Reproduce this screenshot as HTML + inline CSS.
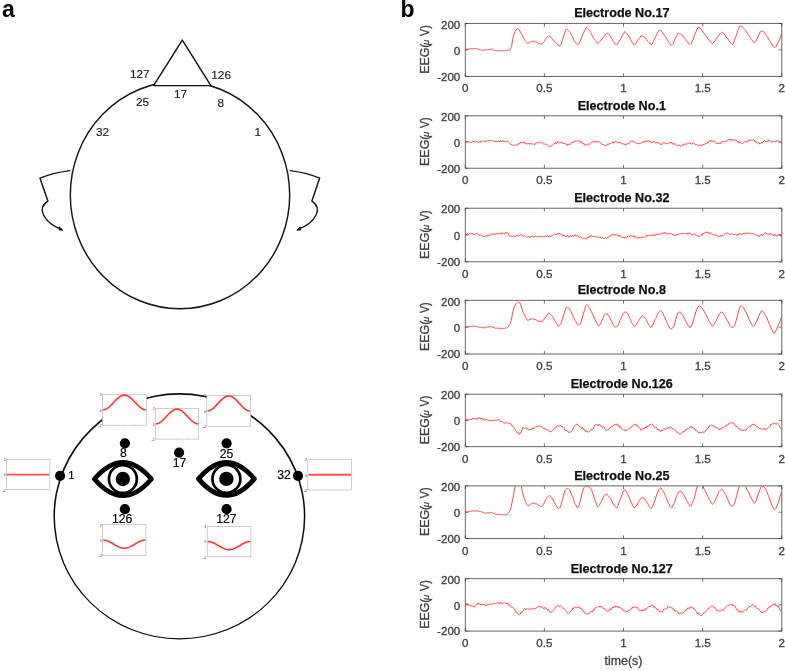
<!DOCTYPE html>
<html><head><meta charset="utf-8"><title>EEG electrodes figure</title>
<style>
html,body{margin:0;padding:0;background:#fff;}
body{width:785px;height:671px;overflow:hidden;font-family:"Liberation Sans",sans-serif;}
svg{display:block}
.lbl{font-family:"Liberation Sans",sans-serif;font-size:11.8px;fill:#1c1c1c;stroke:#1c1c1c;stroke-width:0.15px}
.lbl2{font-family:"Liberation Sans",sans-serif;font-size:12.2px;fill:#000;stroke:#000;stroke-width:0.15px}
.tick{font-family:"Liberation Sans",sans-serif;font-size:11.6px;fill:#404040;stroke:#404040;stroke-width:0.3px}
.ttl{font-family:"Liberation Sans",sans-serif;font-size:12.6px;font-weight:bold;fill:#111;stroke:#111;stroke-width:0.25px}
.yl{font-family:"Liberation Sans",sans-serif;font-size:12.4px;fill:#404040;stroke:#404040;stroke-width:0.3px}
.pan{font-family:"Liberation Sans",sans-serif;font-size:23px;font-weight:bold;fill:#000}
.tiny{font-family:"Liberation Sans",sans-serif;font-size:3.3px;fill:#333}
</style></head><body>
<svg width="785" height="671" viewBox="0 0 785 671">
<defs><filter id="soft" x="0" y="0" width="785" height="671" filterUnits="userSpaceOnUse"><feGaussianBlur stdDeviation="0.45"/></filter></defs>
<rect width="785" height="671" fill="#fff"/>
<g filter="url(#soft)">

<text class="pan" x="1.9" y="16.8">a</text>
<text class="pan" x="400.5" y="16.8">b</text>
<g fill="none" stroke="#141414" stroke-width="1.45" stroke-linejoin="round" stroke-linecap="round">
<ellipse cx="180" cy="195" rx="109.7" ry="113.7"/>
<path d="M153.6 85.6 L182.3 40.1 L210.9 85.6 Z" fill="#fff"/>
<path d="M69.6 170.6 Q52 173 40 178.2 L47.9 201.1 Q39.5 206.5 43.5 215 Q48 224 61.1 229.2"/>
<path d="M290.4 170.6 Q308 173 319.6 178.2 L311.9 201.1 Q320.1 206.5 316.1 215 Q311.6 224 298.5 229.2"/>
</g>
<path d="M62.8 230.2 L59.4 226.9 L59.0 230.0 Z" fill="#111" stroke="#111" stroke-width="0.8"/>
<path d="M296.8 230.2 L300.2 226.9 L300.6 230.0 Z" fill="#111" stroke="#111" stroke-width="0.8"/>
<text class="lbl" x="130.0" y="78.0">127</text>
<text class="lbl" x="211.3" y="79.4">126</text>
<text class="lbl" x="136.0" y="106.4">25</text>
<text class="lbl" x="173.9" y="98.2">17</text>
<text class="lbl" x="217.5" y="106.6">8</text>
<text class="lbl" x="96" y="136.3">32</text>
<text class="lbl" x="254.5" y="136.3">1</text>
<ellipse cx="179.4" cy="516.25" rx="125.95" ry="123.2" fill="#0a0a0a"/>
<ellipse cx="179.4" cy="516.55" rx="124.45" ry="121.8" fill="#fff"/>
<rect x="6.4" y="459.5" width="43.5" height="30.1" fill="#fff" stroke="#b0b0b0" stroke-width="0.6"/>
<text class="tiny" text-anchor="end" x="5.6" y="461.4">2</text>
<text class="tiny" text-anchor="end" x="5.6" y="476.4">0</text>
<text class="tiny" text-anchor="end" x="5.6" y="491.5">-2</text>
<path d="M17.3 489.6v-0.7M17.3 459.5v0.7M28.1 489.6v-0.7M28.1 459.5v0.7M39.0 489.6v-0.7M39.0 459.5v0.7" stroke="#b0b0b0" stroke-width="0.5" fill="none"/>
<polyline points="7.0,474.6 8.1,474.6 9.1,474.6 10.2,474.6 11.2,474.6 12.3,474.6 13.3,474.6 14.4,474.6 15.5,474.6 16.5,474.6 17.6,474.6 18.6,474.6 19.7,474.6 20.7,474.6 21.8,474.6 22.9,474.6 23.9,474.6 25.0,474.6 26.0,474.6 27.1,474.6 28.1,474.6 29.2,474.6 30.3,474.6 31.3,474.6 32.4,474.6 33.4,474.6 34.5,474.6 35.6,474.6 36.6,474.6 37.7,474.6 38.7,474.6 39.8,474.6 40.8,474.6 41.9,474.6 43.0,474.6 44.0,474.6 45.1,474.6 46.1,474.6 47.2,474.6 48.2,474.6 49.3,474.6" fill="none" stroke="#ff5252" stroke-width="1.9" stroke-linejoin="round"/>
<rect x="307.9" y="459.5" width="43.6" height="30.5" fill="#fff" stroke="#b0b0b0" stroke-width="0.6"/>
<text class="tiny" text-anchor="end" x="307.1" y="461.4">2</text>
<text class="tiny" text-anchor="end" x="307.1" y="476.6">0</text>
<text class="tiny" text-anchor="end" x="307.1" y="491.9">-2</text>
<path d="M318.8 490.0v-0.7M318.8 459.5v0.7M329.7 490.0v-0.7M329.7 459.5v0.7M340.6 490.0v-0.7M340.6 459.5v0.7" stroke="#b0b0b0" stroke-width="0.5" fill="none"/>
<polyline points="308.5,474.8 309.6,474.8 310.6,474.8 311.7,474.8 312.7,474.8 313.8,474.8 314.9,474.8 315.9,474.8 317.0,474.8 318.0,474.8 319.1,474.8 320.2,474.8 321.2,474.8 322.3,474.8 323.3,474.8 324.4,474.8 325.5,474.8 326.5,474.8 327.6,474.8 328.6,474.8 329.7,474.8 330.8,474.8 331.8,474.8 332.9,474.8 333.9,474.8 335.0,474.8 336.1,474.8 337.1,474.8 338.2,474.8 339.2,474.8 340.3,474.8 341.4,474.8 342.4,474.8 343.5,474.8 344.5,474.8 345.6,474.8 346.7,474.8 347.7,474.8 348.8,474.8 349.8,474.8 350.9,474.8" fill="none" stroke="#ff5252" stroke-width="1.9" stroke-linejoin="round"/>
<rect x="102.3" y="394.5" width="44.3" height="30.7" fill="#fff" stroke="#b0b0b0" stroke-width="0.6"/>
<text class="tiny" text-anchor="end" x="101.5" y="396.4">2</text>
<text class="tiny" text-anchor="end" x="101.5" y="411.8">0</text>
<text class="tiny" text-anchor="end" x="101.5" y="427.1">-2</text>
<path d="M113.4 425.2v-0.7M113.4 394.5v0.7M124.4 425.2v-0.7M124.4 394.5v0.7M135.5 425.2v-0.7M135.5 394.5v0.7" stroke="#b0b0b0" stroke-width="0.5" fill="none"/>
<polyline points="102.9,409.9 104.0,409.8 105.1,409.5 106.1,409.0 107.2,408.4 108.3,407.7 109.4,406.8 110.4,405.8 111.5,404.8 112.6,403.6 113.7,402.5 114.8,401.3 115.8,400.2 116.9,399.1 118.0,398.1 119.1,397.3 120.1,396.5 121.2,395.9 122.3,395.5 123.4,395.2 124.4,395.1 125.5,395.2 126.6,395.5 127.7,395.9 128.8,396.5 129.8,397.3 130.9,398.1 132.0,399.1 133.1,400.2 134.1,401.3 135.2,402.5 136.3,403.6 137.4,404.8 138.5,405.8 139.5,406.8 140.6,407.7 141.7,408.4 142.8,409.0 143.8,409.5 144.9,409.8 146.0,409.9" fill="none" stroke="#ff3030" stroke-width="1.55" stroke-linejoin="round"/>
<rect x="155.3" y="408.5" width="43.4" height="30.6" fill="#fff" stroke="#b0b0b0" stroke-width="0.6"/>
<text class="tiny" text-anchor="end" x="154.5" y="410.4">2</text>
<text class="tiny" text-anchor="end" x="154.5" y="425.7">0</text>
<text class="tiny" text-anchor="end" x="154.5" y="441.0">-2</text>
<path d="M166.2 439.1v-0.7M166.2 408.5v0.7M177.0 439.1v-0.7M177.0 408.5v0.7M187.8 439.1v-0.7M187.8 408.5v0.7" stroke="#b0b0b0" stroke-width="0.5" fill="none"/>
<polyline points="155.9,423.8 157.0,423.7 158.0,423.4 159.1,423.0 160.1,422.4 161.2,421.6 162.2,420.8 163.3,419.8 164.3,418.7 165.4,417.6 166.4,416.4 167.5,415.3 168.6,414.2 169.6,413.1 170.7,412.1 171.7,411.3 172.8,410.5 173.8,409.9 174.9,409.5 175.9,409.2 177.0,409.1 178.1,409.2 179.1,409.5 180.2,409.9 181.2,410.5 182.3,411.3 183.3,412.1 184.4,413.1 185.4,414.2 186.5,415.3 187.5,416.4 188.6,417.6 189.7,418.7 190.7,419.8 191.8,420.8 192.8,421.6 193.9,422.4 194.9,423.0 196.0,423.4 197.0,423.7 198.1,423.8" fill="none" stroke="#ff3030" stroke-width="1.55" stroke-linejoin="round"/>
<rect x="206.8" y="395.3" width="43.8" height="31.1" fill="#fff" stroke="#b0b0b0" stroke-width="0.6"/>
<text class="tiny" text-anchor="end" x="206.0" y="397.2">2</text>
<text class="tiny" text-anchor="end" x="206.0" y="412.8">0</text>
<text class="tiny" text-anchor="end" x="206.0" y="428.3">-2</text>
<path d="M217.8 426.4v-0.7M217.8 395.3v0.7M228.7 426.4v-0.7M228.7 395.3v0.7M239.7 426.4v-0.7M239.7 395.3v0.7" stroke="#b0b0b0" stroke-width="0.5" fill="none"/>
<polyline points="207.4,410.9 208.5,410.8 209.5,410.5 210.6,410.0 211.7,409.4 212.7,408.7 213.8,407.8 214.9,406.8 215.9,405.7 217.0,404.5 218.1,403.4 219.1,402.2 220.2,401.1 221.2,400.0 222.3,399.0 223.4,398.1 224.4,397.3 225.5,396.7 226.6,396.3 227.6,396.0 228.7,395.9 229.8,396.0 230.8,396.3 231.9,396.7 233.0,397.3 234.0,398.1 235.1,399.0 236.2,400.0 237.2,401.1 238.3,402.2 239.3,403.4 240.4,404.5 241.5,405.7 242.5,406.8 243.6,407.8 244.7,408.7 245.7,409.4 246.8,410.0 247.9,410.5 248.9,410.8 250.0,410.9" fill="none" stroke="#ff3030" stroke-width="1.55" stroke-linejoin="round"/>
<rect x="102.6" y="524.7" width="43.3" height="30.8" fill="#fff" stroke="#b0b0b0" stroke-width="0.6"/>
<text class="tiny" text-anchor="end" x="101.8" y="526.6">2</text>
<text class="tiny" text-anchor="end" x="101.8" y="542.0">0</text>
<text class="tiny" text-anchor="end" x="101.8" y="557.4">-2</text>
<path d="M113.4 555.5v-0.7M113.4 524.7v0.7M124.2 555.5v-0.7M124.2 524.7v0.7M135.1 555.5v-0.7M135.1 524.7v0.7" stroke="#b0b0b0" stroke-width="0.5" fill="none"/>
<polyline points="103.2,540.1 104.3,540.2 105.3,540.3 106.4,540.5 107.4,540.9 108.5,541.3 109.5,541.8 110.6,542.3 111.6,542.9 112.7,543.5 113.7,544.2 114.8,544.8 115.8,545.4 116.9,546.0 117.9,546.6 119.0,547.1 120.0,547.5 121.1,547.8 122.1,548.1 123.2,548.2 124.2,548.3 125.3,548.2 126.4,548.1 127.4,547.8 128.5,547.5 129.5,547.1 130.6,546.6 131.6,546.0 132.7,545.4 133.7,544.8 134.8,544.2 135.8,543.5 136.9,542.9 137.9,542.3 139.0,541.8 140.0,541.3 141.1,540.9 142.1,540.5 143.2,540.3 144.2,540.2 145.3,540.1" fill="none" stroke="#ff3030" stroke-width="1.55" stroke-linejoin="round"/>
<rect x="207.2" y="526.3" width="43.7" height="30.5" fill="#fff" stroke="#b0b0b0" stroke-width="0.6"/>
<text class="tiny" text-anchor="end" x="206.4" y="528.2">2</text>
<text class="tiny" text-anchor="end" x="206.4" y="543.4">0</text>
<text class="tiny" text-anchor="end" x="206.4" y="558.7">-2</text>
<path d="M218.1 556.8v-0.7M218.1 526.3v0.7M229.1 556.8v-0.7M229.1 526.3v0.7M240.0 556.8v-0.7M240.0 526.3v0.7" stroke="#b0b0b0" stroke-width="0.5" fill="none"/>
<polyline points="207.8,541.5 208.9,541.6 209.9,541.7 211.0,542.0 212.0,542.3 213.1,542.7 214.2,543.2 215.2,543.8 216.3,544.3 217.4,545.0 218.4,545.6 219.5,546.2 220.5,546.8 221.6,547.4 222.7,548.0 223.7,548.4 224.8,548.9 225.9,549.2 226.9,549.4 228.0,549.6 229.0,549.6 230.1,549.6 231.2,549.4 232.2,549.2 233.3,548.9 234.4,548.4 235.4,548.0 236.5,547.4 237.5,546.8 238.6,546.2 239.7,545.6 240.7,545.0 241.8,544.3 242.9,543.8 243.9,543.2 245.0,542.7 246.1,542.3 247.1,542.0 248.2,541.7 249.2,541.6 250.3,541.5" fill="none" stroke="#ff3030" stroke-width="1.55" stroke-linejoin="round"/>
<circle cx="60.1" cy="475.8" r="5.1" fill="#000"/>
<circle cx="298" cy="475.8" r="5.1" fill="#000"/>
<circle cx="124.9" cy="443.3" r="5.1" fill="#000"/>
<circle cx="226.6" cy="443.3" r="5.1" fill="#000"/>
<circle cx="179.1" cy="452.6" r="5.1" fill="#000"/>
<circle cx="124.9" cy="509.2" r="5.1" fill="#000"/>
<circle cx="226.6" cy="509.2" r="5.1" fill="#000"/>
<text class="lbl2" text-anchor="middle" x="71.4" y="478.9" style="font-size:11.3px">1</text>
<text class="lbl2" text-anchor="middle" x="284" y="479">32</text>
<text class="lbl2" text-anchor="middle" x="123.5" y="456.6">8</text>
<text class="lbl2" text-anchor="middle" x="226.5" y="457.8">25</text>
<text class="lbl2" text-anchor="middle" x="179.6" y="466.8">17</text>
<text class="lbl2" text-anchor="middle" x="122.2" y="522.6">126</text>
<text class="lbl2" text-anchor="middle" x="226.4" y="522.6">127</text>
<g transform="translate(122.9 479.0)">
<path d="M-28.50 0 Q0 -33.40 28.50 0 Q0 33.40 -28.50 0 Z" fill="none" stroke="#000" stroke-width="4.8" stroke-linejoin="round"/>
<circle r="13.95" fill="none" stroke="#000" stroke-width="2.7"/>
<circle r="7.2" fill="#000"/>
</g>
<g transform="translate(226.4 478.9)">
<path d="M-27.90 0 Q0 -33.00 27.90 0 Q0 33.00 -27.90 0 Z" fill="none" stroke="#000" stroke-width="4.8" stroke-linejoin="round"/>
<circle r="13.95" fill="none" stroke="#000" stroke-width="2.7"/>
<circle r="7.2" fill="#000"/>
</g>
<clipPath id="c0"><rect x="465.3" y="23.4" width="316.5" height="53.0"/></clipPath>
<polyline clip-path="url(#c0)" points="465.3,49.1 466.1,49.0 466.9,49.3 467.7,48.8 468.5,49.1 469.3,48.9 470.1,48.6 470.9,48.9 471.7,48.5 472.5,48.7 473.3,48.4 474.2,48.4 475.0,48.6 475.8,48.9 476.6,48.5 477.4,48.8 478.2,49.2 479.0,49.7 479.9,49.7 480.7,49.7 481.5,50.3 482.3,49.9 483.1,50.6 483.9,50.1 484.6,49.9 485.4,49.8 486.2,49.8 486.9,50.1 487.7,49.5 488.5,49.7 489.2,49.6 490.0,49.3 490.8,49.3 491.5,49.0 492.3,49.2 493.1,49.8 493.9,50.5 494.7,50.7 495.5,50.6 496.2,50.8 497.0,50.7 497.8,50.6 498.6,50.9 499.3,50.9 500.1,50.6 500.9,50.8 501.7,50.7 502.4,51.0 503.2,50.8 504.0,50.5 504.7,51.0 505.5,50.3 506.3,50.5 507.1,50.7 507.8,50.2 508.6,50.4 509.4,50.0 510.4,48.9 511.5,46.7 512.5,40.9 513.6,35.2 514.4,33.0 515.2,31.5 516.0,30.0 516.8,28.7 517.8,28.5 518.9,29.5 519.7,30.9 520.5,32.1 521.4,33.9 522.2,35.2 523.1,37.2 523.9,38.6 524.7,40.2 525.6,41.5 526.4,42.3 527.3,43.3 528.0,43.4 528.8,42.8 529.6,42.8 530.4,42.2 531.2,41.8 532.0,41.4 532.8,41.6 533.6,41.0 534.3,41.3 535.1,41.6 535.9,42.2 536.6,42.0 537.4,42.6 538.2,43.0 538.9,43.6 539.7,43.8 540.4,44.1 541.2,43.8 542.0,43.9 542.8,43.1 543.6,42.5 544.3,41.5 545.1,39.8 545.9,38.6 546.7,37.5 547.5,36.6 548.3,36.0 549.1,36.3 550.0,36.6 550.8,37.1 551.6,38.3 552.5,39.1 553.3,40.0 554.1,41.0 554.8,41.7 555.6,42.5 556.4,43.4 557.2,44.3 558.0,44.6 558.8,45.8 559.8,45.9 560.9,44.7 561.6,42.8 562.4,40.4 563.1,38.1 563.9,35.5 564.6,33.6 565.4,31.1 566.1,29.4 566.9,29.2 567.7,29.6 568.5,30.5 569.3,31.5 570.1,32.5 570.8,33.8 571.6,35.2 572.4,36.8 573.1,38.0 573.9,40.1 574.6,41.3 575.4,42.2 576.2,43.4 576.9,44.3 577.7,45.0 578.5,43.8 579.2,43.1 580.0,41.7 580.8,39.6 581.5,37.8 582.3,35.7 583.1,33.8 583.8,32.2 584.6,30.5 585.4,29.5 586.1,27.8 586.9,27.5 587.7,28.7 588.5,29.5 589.3,30.5 590.0,31.8 590.8,32.6 591.6,34.2 592.3,35.8 593.1,37.1 593.9,38.3 594.6,39.3 595.4,40.6 596.1,41.5 596.9,42.9 597.7,43.4 598.4,43.1 599.2,42.2 600.0,41.3 600.7,40.8 601.5,39.9 602.3,38.8 603.0,37.7 603.8,36.6 604.6,35.6 605.3,34.4 606.1,33.9 606.9,33.6 607.7,33.4 608.4,33.9 609.2,34.8 610.1,35.8 610.9,37.2 611.7,38.7 612.5,39.7 613.3,41.4 614.1,42.8 615.0,43.9 615.8,44.4 616.6,44.9 617.4,44.0 618.2,42.8 619.0,41.5 619.9,40.2 620.7,38.8 621.5,37.2 622.3,35.4 623.1,34.1 623.9,33.1 624.6,31.5 625.5,32.3 626.4,33.1 627.4,34.1 628.1,35.2 628.9,36.3 629.7,37.4 630.4,39.3 631.2,40.5 632.0,42.2 632.8,43.6 633.5,44.2 634.3,45.0 635.1,44.7 636.0,43.6 636.8,42.0 637.7,40.6 638.5,39.2 639.3,38.4 640.2,37.2 641.0,35.8 641.8,36.0 642.6,36.3 643.4,36.5 644.2,37.0 645.0,37.8 645.8,38.4 646.6,39.4 647.4,41.1 648.3,41.9 649.1,42.7 649.9,43.8 650.7,44.1 651.5,44.7 652.3,43.6 653.2,41.8 654.0,40.3 654.8,38.6 655.6,36.7 656.4,35.2 657.3,33.3 658.1,31.9 658.9,30.5 659.7,30.6 660.5,30.2 661.2,30.8 662.0,31.9 662.8,33.0 663.6,33.8 664.4,35.4 665.2,36.4 666.0,37.7 666.8,39.1 667.6,40.1 668.3,41.7 669.1,42.7 669.9,43.6 670.7,45.0 671.5,45.2 672.3,44.6 673.1,43.6 673.9,41.9 674.6,40.0 675.4,38.4 676.2,36.7 677.0,35.3 677.8,33.6 678.6,33.7 679.5,33.4 680.3,33.7 681.2,34.5 682.0,35.0 682.8,35.8 683.5,36.8 684.3,37.9 685.1,38.6 685.8,39.8 686.6,40.8 687.4,41.8 688.1,42.9 688.9,43.5 689.6,44.1 690.4,44.4 691.2,43.5 692.0,41.7 692.9,39.9 693.7,37.9 694.5,35.3 695.3,33.3 696.1,31.6 697.0,29.7 697.8,27.8 698.6,27.2 699.3,27.6 700.1,28.0 700.9,29.1 701.7,29.8 702.5,31.0 703.2,32.1 704.0,33.2 704.8,33.7 705.5,35.2 706.3,36.3 707.1,37.0 707.9,38.6 708.6,39.7 709.4,40.2 710.2,41.6 710.9,42.0 711.7,42.8 712.5,43.7 713.2,43.1 714.0,42.0 714.8,41.3 715.5,40.3 716.3,39.0 717.1,37.8 717.8,36.7 718.6,35.8 719.4,34.2 720.1,33.7 720.9,32.8 721.7,32.2 722.5,32.6 723.3,33.2 724.0,33.9 724.8,34.4 725.6,36.1 726.3,37.0 727.1,38.3 727.9,38.9 728.6,40.2 729.4,41.2 730.2,42.7 730.9,43.2 731.7,43.8 732.5,44.4 733.3,43.4 734.1,41.5 734.9,39.1 735.7,36.7 736.5,34.9 737.4,32.3 738.2,30.2 739.0,27.9 739.8,26.3 740.6,26.3 741.5,26.2 742.3,26.5 743.2,27.9 744.0,28.8 744.8,29.7 745.5,30.2 746.3,31.8 747.0,32.4 747.8,34.1 748.5,35.0 749.3,36.2 750.0,37.5 750.8,38.9 751.5,39.6 752.3,40.5 753.0,41.6 753.8,42.2 754.5,42.7 755.3,41.9 756.1,40.6 756.9,39.1 757.7,37.5 758.5,35.7 759.3,34.3 760.0,32.4 760.8,31.4 761.7,31.0 762.5,31.3 763.4,31.5 764.2,32.4 765.0,33.2 765.8,34.6 766.6,35.6 767.4,36.6 768.2,38.1 769.0,39.8 769.8,40.6 770.5,42.4 771.3,43.4 772.1,44.7 772.9,46.0 773.7,46.7 774.5,47.6 775.3,47.2 776.2,46.2 777.0,44.3 777.9,43.0 778.7,41.4 779.5,39.5 780.2,37.3 781.0,35.4 781.8,33.6" fill="none" stroke="#ff4545" stroke-width="1.0" stroke-linejoin="round"/>
<rect x="465.3" y="23.4" width="316.5" height="53.0" fill="none" stroke="#565656" stroke-width="0.9"/>
<path d="M465.3 76.4v-3.2M465.3 23.4v3.2M544.4 76.4v-3.2M544.4 23.4v3.2M623.5 76.4v-3.2M623.5 23.4v3.2M702.7 76.4v-3.2M702.7 23.4v3.2M781.8 76.4v-3.2M781.8 23.4v3.2M465.3 23.4h3.2M781.8 23.4h-3.2M465.3 49.9h3.2M781.8 49.9h-3.2M465.3 76.4h3.2M781.8 76.4h-3.2" stroke="#3c3c3c" stroke-width="0.7" fill="none"/>
<text class="tick" text-anchor="middle" x="465.3" y="92.3">0</text>
<text class="tick" text-anchor="middle" x="544.4" y="92.3">0.5</text>
<text class="tick" text-anchor="middle" x="623.5" y="92.3">1</text>
<text class="tick" text-anchor="middle" x="702.7" y="92.3">1.5</text>
<text class="tick" text-anchor="middle" x="781.8" y="92.3">2</text>
<text class="tick" text-anchor="end" x="460.3" y="28.6">200</text>
<text class="tick" text-anchor="end" x="460.3" y="54.9">0</text>
<text class="tick" text-anchor="end" x="460.3" y="80.7">-200</text>
<text class="ttl" text-anchor="middle" x="621.8" y="17.4">Electrode No.17</text>
<g transform="translate(429.1 72.8) rotate(-90)"><text class="yl" x="-1">EEG(</text><text class="yl" x="27.9" style="font-size:9.6px;font-style:italic">μ</text><text class="yl" transform="translate(36.9 0) scale(0.86 1)">V)</text></g>
<clipPath id="c1"><rect x="465.3" y="115.8" width="316.5" height="52.4"/></clipPath>
<polyline clip-path="url(#c1)" points="465.3,141.6 466.1,141.5 466.9,142.6 467.7,141.7 468.4,141.5 469.2,141.4 470.0,142.7 470.8,142.7 471.6,142.3 472.4,141.6 473.2,141.5 473.9,141.6 474.7,141.8 475.5,141.2 476.3,141.7 477.1,141.4 477.9,142.6 478.7,142.6 479.4,141.8 480.2,141.2 481.0,142.5 481.8,141.3 482.5,141.3 483.3,140.6 484.0,141.3 484.8,141.4 485.5,141.4 486.3,140.9 487.0,141.4 487.8,140.4 488.5,140.9 489.3,140.5 490.0,141.1 490.8,140.4 491.5,140.4 492.3,140.9 493.0,140.7 493.8,141.3 494.5,141.2 495.3,141.6 496.0,141.4 496.8,141.5 497.5,141.8 498.3,140.9 499.0,140.8 499.8,142.0 500.5,140.5 501.3,141.5 502.0,141.4 502.8,140.3 503.5,141.7 504.3,141.8 505.0,141.4 505.8,141.6 506.5,141.7 507.3,140.6 508.1,141.8 508.9,142.4 509.7,143.7 510.4,144.3 511.2,144.6 512.0,144.5 512.8,145.4 513.6,145.3 514.4,145.6 515.2,145.1 516.0,144.9 516.8,145.2 517.6,145.0 518.4,143.7 519.3,144.1 520.1,142.8 521.0,142.3 521.7,142.3 522.5,142.6 523.3,142.5 524.1,141.9 524.9,143.6 525.7,143.7 526.5,143.5 527.3,143.8 528.0,144.1 528.8,143.1 529.6,144.4 530.4,143.6 531.2,143.4 532.0,143.7 532.8,144.6 533.6,143.6 534.3,144.4 535.1,144.5 535.8,143.3 536.6,142.8 537.3,142.6 538.1,142.7 538.8,142.7 539.6,142.6 540.5,142.9 541.3,142.2 542.1,142.6 542.9,143.1 543.7,144.3 544.5,143.9 545.4,144.6 546.2,143.9 546.9,144.3 547.7,145.1 548.5,146.2 549.3,146.5 550.0,146.7 550.8,146.1 551.6,146.0 552.4,145.3 553.2,144.6 554.0,143.2 554.8,143.9 555.6,142.1 556.4,143.4 557.1,143.2 557.9,141.4 558.6,142.2 559.4,142.8 560.1,143.1 560.9,142.2 561.7,142.1 562.5,142.3 563.3,144.0 564.0,143.1 564.8,144.1 565.6,143.7 566.4,144.6 567.2,145.6 568.0,143.9 568.8,144.9 569.6,143.9 570.4,144.2 571.1,143.5 571.9,142.2 572.7,143.1 573.5,142.0 574.3,141.0 575.0,140.8 575.8,141.5 576.5,141.3 577.3,140.9 578.0,140.5 578.8,140.9 579.6,141.2 580.4,142.5 581.2,141.5 582.0,143.3 582.8,143.9 583.7,143.1 584.5,145.0 585.3,144.9 586.1,145.5 586.9,144.3 587.6,144.2 588.4,143.9 589.2,144.7 589.9,143.7 590.7,142.9 591.5,142.7 592.2,142.0 593.0,141.3 593.8,141.1 594.5,142.2 595.4,141.2 596.2,142.4 597.0,141.2 597.9,141.4 598.7,142.1 599.5,141.8 600.4,142.5 601.2,143.9 602.0,144.2 602.8,144.5 603.6,144.5 604.4,145.4 605.3,145.8 606.1,145.3 606.9,145.4 607.8,143.8 608.6,144.6 609.4,143.6 610.3,143.8 611.0,143.4 611.8,142.5 612.5,141.9 613.3,143.3 614.0,141.7 614.8,142.1 615.5,141.8 616.4,141.7 617.2,142.6 618.1,143.2 618.9,142.1 619.7,143.0 620.6,142.7 621.4,143.6 622.3,143.8 623.1,143.8 623.9,144.2 625.3,144.3 626.0,145.2 626.8,144.0 627.6,143.1 628.4,143.9 629.2,143.6 630.0,142.2 630.8,141.2 631.6,141.1 632.3,141.0 633.1,141.6 633.9,141.3 634.6,141.8 635.4,142.1 636.1,142.9 636.9,143.7 637.7,143.7 638.4,143.3 639.2,143.5 640.0,143.8 640.7,143.3 641.5,142.9 642.2,141.9 643.0,141.9 643.7,142.7 644.5,140.8 645.2,141.2 646.0,141.4 646.8,141.9 647.5,140.8 648.3,140.9 649.0,141.0 649.8,141.4 650.6,141.5 651.3,142.6 652.1,142.5 652.9,142.6 653.6,141.2 654.4,141.4 655.2,142.7 655.9,143.2 656.7,142.6 657.5,143.0 658.2,142.1 659.0,143.0 659.7,144.1 660.5,144.1 661.3,144.3 662.0,144.6 662.8,143.2 663.6,142.9 664.3,142.9 665.1,143.4 665.9,143.5 666.6,143.9 667.4,143.3 668.2,143.1 668.9,143.2 669.7,142.6 670.4,142.8 671.2,142.0 671.9,143.6 672.7,142.9 673.4,144.4 674.2,144.2 674.9,143.9 675.7,143.9 676.5,144.4 677.2,145.4 678.0,145.8 678.7,145.0 679.5,145.1 680.2,146.1 681.0,146.4 681.7,145.8 682.5,145.2 683.3,145.5 684.1,144.0 684.9,144.1 685.7,143.9 686.5,144.4 687.3,143.6 688.0,144.0 688.8,143.2 689.6,142.8 690.4,142.9 691.2,144.3 692.0,143.9 692.8,143.3 693.6,142.9 694.4,144.0 695.1,144.6 695.9,144.4 696.7,144.4 697.5,145.5 698.3,146.2 699.1,145.2 699.9,145.0 700.7,145.4 701.4,145.2 702.2,145.4 703.0,144.2 703.8,144.9 704.6,144.4 705.4,143.7 706.2,142.8 706.9,143.7 707.7,142.1 708.4,142.6 709.2,141.0 709.9,140.6 710.7,141.3 711.4,140.2 712.3,141.6 713.1,141.1 713.9,141.0 714.7,141.5 715.5,142.3 716.3,143.1 717.2,144.0 718.0,142.9 718.8,143.5 719.6,143.0 720.3,144.1 721.1,142.3 721.8,141.7 722.6,141.4 723.4,141.5 724.1,142.0 724.9,141.6 725.7,141.0 726.4,141.1 727.2,140.7 728.0,139.6 728.8,139.2 729.6,140.6 730.4,140.3 731.1,139.0 731.9,140.2 732.7,139.8 733.5,139.9 734.3,140.1 735.0,140.1 735.8,140.0 736.6,140.9 737.3,141.3 738.1,142.7 738.9,141.5 739.6,143.3 740.4,142.2 741.1,142.7 741.9,143.7 742.7,143.5 743.5,142.6 744.3,141.7 745.1,142.1 745.9,141.6 746.6,142.3 747.4,140.6 748.2,140.6 749.0,141.3 749.8,139.5 750.6,139.9 751.4,140.5 752.1,140.6 752.9,139.6 753.7,139.9 754.4,140.3 755.2,142.2 756.0,141.4 756.7,142.6 757.5,143.3 758.2,142.6 759.0,142.7 759.8,144.1 760.6,143.4 761.4,142.5 762.2,143.0 763.0,141.9 763.9,141.4 764.7,140.6 765.5,141.6 766.3,141.6 767.1,140.8 767.9,141.4 768.7,139.9 769.5,140.4 770.3,141.0 771.1,142.1 771.9,142.2 772.7,141.3 773.4,141.2 774.2,141.4 774.9,141.3 775.7,141.9 776.4,140.4 777.2,141.3 777.9,141.0 778.7,141.2 779.5,141.7 780.2,142.3 781.0,142.7 781.8,143.4" fill="none" stroke="#ff4545" stroke-width="1.0" stroke-linejoin="round"/>
<rect x="465.3" y="115.8" width="316.5" height="52.4" fill="none" stroke="#565656" stroke-width="0.9"/>
<path d="M465.3 168.2v-3.2M465.3 115.8v3.2M544.4 168.2v-3.2M544.4 115.8v3.2M623.5 168.2v-3.2M623.5 115.8v3.2M702.7 168.2v-3.2M702.7 115.8v3.2M781.8 168.2v-3.2M781.8 115.8v3.2M465.3 115.8h3.2M781.8 115.8h-3.2M465.3 142.0h3.2M781.8 142.0h-3.2M465.3 168.2h3.2M781.8 168.2h-3.2" stroke="#3c3c3c" stroke-width="0.7" fill="none"/>
<text class="tick" text-anchor="middle" x="465.3" y="184.1">0</text>
<text class="tick" text-anchor="middle" x="544.4" y="184.1">0.5</text>
<text class="tick" text-anchor="middle" x="623.5" y="184.1">1</text>
<text class="tick" text-anchor="middle" x="702.7" y="184.1">1.5</text>
<text class="tick" text-anchor="middle" x="781.8" y="184.1">2</text>
<text class="tick" text-anchor="end" x="460.3" y="121.0">200</text>
<text class="tick" text-anchor="end" x="460.3" y="147.0">0</text>
<text class="tick" text-anchor="end" x="460.3" y="172.5">-200</text>
<text class="ttl" text-anchor="middle" x="621.8" y="109.8">Electrode No.1</text>
<g transform="translate(429.1 164.9) rotate(-90)"><text class="yl" x="-1">EEG(</text><text class="yl" x="27.9" style="font-size:9.6px;font-style:italic">μ</text><text class="yl" transform="translate(36.9 0) scale(0.86 1)">V)</text></g>
<clipPath id="c2"><rect x="465.3" y="208.2" width="316.5" height="53.6"/></clipPath>
<polyline clip-path="url(#c2)" points="465.3,234.4 466.1,235.1 466.9,233.7 467.7,233.8 468.5,234.7 469.4,233.6 470.2,233.2 471.0,233.0 471.8,233.8 472.6,233.3 473.5,234.5 474.3,234.4 475.1,234.7 476.0,233.5 476.8,233.3 477.6,233.5 478.5,234.5 479.3,235.2 480.1,235.0 480.9,234.9 481.7,235.5 482.5,236.1 483.4,236.3 484.2,236.6 485.0,236.7 485.7,236.2 486.5,235.1 487.3,236.3 488.1,235.1 488.9,235.5 489.7,234.9 490.5,235.4 491.3,234.2 492.1,234.1 492.8,234.0 493.6,233.6 494.4,234.8 495.2,234.0 496.0,233.4 496.8,233.4 497.5,234.4 498.3,233.5 499.0,232.9 499.8,233.9 500.5,233.6 501.3,234.2 502.0,232.5 502.8,233.1 503.5,233.7 504.3,233.8 505.0,233.9 505.8,232.3 506.5,232.8 507.3,232.5 508.1,233.2 509.0,235.3 509.8,235.3 510.7,236.6 511.5,236.1 512.3,237.0 513.1,236.2 513.9,235.8 514.6,236.6 515.4,236.8 516.2,235.2 517.0,235.9 517.8,235.8 518.6,235.0 519.4,235.2 520.2,234.7 521.0,234.8 521.7,235.0 522.5,235.9 523.3,236.2 524.1,235.7 524.9,235.7 525.7,236.5 526.5,237.3 527.3,236.6 528.0,236.9 528.8,236.6 529.6,237.7 530.4,237.2 531.1,236.3 531.9,236.3 532.7,236.8 533.5,237.0 534.2,237.1 535.0,236.1 535.8,236.2 536.6,237.1 537.3,236.5 538.1,236.2 538.9,236.2 539.7,237.3 540.4,236.1 541.2,236.5 542.0,236.1 542.7,236.2 543.5,237.0 544.3,237.2 545.0,236.1 545.8,235.8 546.6,236.7 547.3,235.8 548.1,235.4 548.9,237.0 549.6,236.1 550.4,236.7 551.2,235.7 552.0,236.3 552.8,235.3 553.7,234.4 554.5,233.8 555.3,234.4 556.1,234.3 556.9,234.6 557.7,232.9 558.5,234.0 559.2,233.7 560.0,234.2 560.7,233.9 561.5,234.4 562.2,235.1 563.0,236.1 563.8,234.8 564.6,235.6 565.4,236.3 566.1,236.8 566.9,235.5 567.7,235.5 568.5,237.1 569.3,237.2 570.1,236.2 570.9,235.3 571.7,236.7 572.5,235.5 573.2,236.3 574.0,235.6 574.8,235.9 575.6,234.7 576.4,236.0 577.2,235.3 578.0,235.9 578.8,237.1 579.5,237.4 580.3,236.6 581.1,237.0 581.9,237.7 582.7,238.2 583.5,238.3 584.3,238.0 585.1,238.4 585.9,239.1 586.6,239.1 587.4,237.2 588.2,237.7 589.0,237.6 589.8,235.9 590.6,237.0 591.4,235.5 592.2,236.4 593.0,236.4 593.8,236.6 594.6,236.2 595.5,236.6 596.3,237.1 597.1,237.0 597.9,237.6 598.7,237.3 599.5,237.4 600.3,236.8 601.0,238.0 601.8,237.9 602.5,237.6 603.3,238.6 604.1,238.8 604.8,238.3 605.6,237.8 606.4,238.4 607.1,237.8 608.0,237.3 608.8,237.2 609.7,235.8 610.5,235.8 611.3,235.3 612.1,234.3 612.8,235.2 613.6,234.1 614.3,235.2 615.1,235.2 615.8,234.7 616.6,233.9 617.4,234.9 618.2,235.0 619.0,236.4 619.9,235.2 620.7,236.9 621.5,237.5 622.3,237.4 623.1,237.8 623.9,236.9 624.8,238.2 625.6,237.1 626.4,237.7 627.2,237.3 628.0,235.7 628.9,236.6 629.7,236.6 630.5,235.0 631.3,235.6 632.1,236.5 632.9,235.7 633.7,237.2 634.5,236.4 635.2,237.6 636.0,236.6 636.8,237.5 637.6,238.5 638.4,237.4 639.2,237.7 640.0,238.3 640.8,237.8 641.6,237.0 642.4,237.0 643.2,236.7 644.1,237.7 644.9,236.9 645.7,237.0 646.5,235.4 647.3,236.2 648.1,234.9 648.9,235.6 649.6,235.6 650.4,235.1 651.1,235.9 651.9,235.2 652.7,235.2 653.4,235.7 654.2,234.2 655.0,235.7 655.7,234.9 656.5,234.4 657.3,234.9 658.1,233.8 658.9,234.9 659.7,234.0 660.5,233.5 661.2,234.0 662.0,233.3 662.8,232.7 663.6,233.6 664.4,232.3 665.2,233.6 665.9,232.7 666.7,233.5 667.4,234.3 668.2,233.7 668.9,234.0 669.7,233.6 670.4,233.3 671.2,233.5 671.9,233.9 672.7,235.0 673.4,234.8 674.2,235.1 674.9,235.9 675.7,234.6 676.5,234.7 677.3,235.3 678.2,234.0 679.0,233.8 679.8,234.2 680.6,233.5 681.4,233.7 682.2,233.3 683.1,233.8 683.8,233.8 684.6,233.1 685.4,233.9 686.2,233.6 687.0,233.0 687.8,234.5 688.6,233.3 689.4,233.2 690.2,233.1 690.9,234.2 691.7,234.6 692.5,234.6 693.3,234.1 694.1,234.2 694.9,234.0 695.7,235.5 696.5,235.7 697.2,235.6 698.0,236.3 698.8,236.1 699.6,236.7 700.5,235.9 701.3,234.6 702.1,235.4 702.9,233.3 703.7,233.7 704.5,233.1 705.4,232.4 706.2,231.8 707.0,233.1 707.8,231.9 708.5,233.0 709.3,233.9 710.1,232.7 710.9,233.0 711.7,234.0 712.5,234.1 713.3,234.6 714.1,235.2 714.8,234.4 715.6,235.0 716.4,235.3 717.2,235.2 718.0,236.9 718.8,236.9 719.6,236.6 720.3,235.1 721.1,236.4 721.8,235.9 722.6,235.1 723.4,235.3 724.1,234.5 724.9,233.8 725.7,233.3 726.4,233.3 727.2,232.8 727.9,233.3 728.7,234.1 729.4,234.1 730.2,234.4 731.0,234.3 731.7,233.6 732.5,234.2 733.2,234.1 734.0,234.9 734.7,234.5 735.5,234.1 736.2,234.8 737.0,235.5 737.7,234.2 738.5,235.3 739.2,233.6 740.0,233.9 740.8,233.7 741.5,234.4 742.3,234.6 743.1,234.0 743.8,233.1 744.6,234.0 745.4,232.8 746.1,232.5 746.9,233.7 747.7,233.1 748.5,233.2 749.3,233.1 750.1,233.7 750.8,232.8 751.6,233.5 752.4,233.4 753.2,234.0 754.0,233.6 754.8,234.6 755.6,234.8 756.4,234.8 757.1,235.0 757.9,236.1 758.7,235.4 759.5,236.7 760.4,235.1 761.2,234.6 762.0,234.4 762.8,235.6 763.6,234.2 764.4,233.5 765.3,233.0 766.1,232.8 766.9,234.0 767.7,234.0 768.5,234.2 769.4,234.4 770.2,233.3 771.0,234.4 771.8,234.2 772.6,235.1 773.4,235.3 774.2,235.5 775.0,234.1 775.7,235.6 776.5,235.8 777.2,236.0 778.0,234.6 778.8,234.9 779.5,234.8 780.3,234.7 781.0,236.3 781.8,236.3" fill="none" stroke="#ff4545" stroke-width="1.0" stroke-linejoin="round"/>
<rect x="465.3" y="208.2" width="316.5" height="53.6" fill="none" stroke="#565656" stroke-width="0.9"/>
<path d="M465.3 261.8v-3.2M465.3 208.2v3.2M544.4 261.8v-3.2M544.4 208.2v3.2M623.5 261.8v-3.2M623.5 208.2v3.2M702.7 261.8v-3.2M702.7 208.2v3.2M781.8 261.8v-3.2M781.8 208.2v3.2M465.3 208.2h3.2M781.8 208.2h-3.2M465.3 235.0h3.2M781.8 235.0h-3.2M465.3 261.8h3.2M781.8 261.8h-3.2" stroke="#3c3c3c" stroke-width="0.7" fill="none"/>
<text class="tick" text-anchor="middle" x="465.3" y="277.7">0</text>
<text class="tick" text-anchor="middle" x="544.4" y="277.7">0.5</text>
<text class="tick" text-anchor="middle" x="623.5" y="277.7">1</text>
<text class="tick" text-anchor="middle" x="702.7" y="277.7">1.5</text>
<text class="tick" text-anchor="middle" x="781.8" y="277.7">2</text>
<text class="tick" text-anchor="end" x="460.3" y="213.4">200</text>
<text class="tick" text-anchor="end" x="460.3" y="240.0">0</text>
<text class="tick" text-anchor="end" x="460.3" y="266.1">-200</text>
<text class="ttl" text-anchor="middle" x="621.8" y="202.2">Electrode No.32</text>
<g transform="translate(429.1 257.9) rotate(-90)"><text class="yl" x="-1">EEG(</text><text class="yl" x="27.9" style="font-size:9.6px;font-style:italic">μ</text><text class="yl" transform="translate(36.9 0) scale(0.86 1)">V)</text></g>
<clipPath id="c3"><rect x="465.3" y="300.3" width="316.5" height="53.7"/></clipPath>
<polyline clip-path="url(#c3)" points="465.3,327.2 466.1,327.3 466.9,327.1 467.7,326.7 468.4,326.5 469.2,326.4 470.0,326.8 470.8,326.3 471.6,326.3 472.4,326.3 473.1,326.0 473.9,326.1 474.7,326.1 475.5,326.5 476.2,326.4 477.0,326.5 477.8,327.1 478.5,326.9 479.3,327.3 480.1,327.3 480.8,327.1 481.6,327.5 482.4,327.6 483.1,327.9 483.9,327.6 484.6,327.8 485.4,327.5 486.2,327.2 486.9,327.5 487.7,326.9 488.5,327.2 489.2,326.7 490.0,326.5 490.8,326.5 491.5,326.9 492.4,327.2 493.2,326.9 494.1,327.5 494.9,327.9 495.7,328.4 496.5,328.0 497.2,328.2 498.0,328.1 498.7,328.5 499.5,328.1 500.2,328.7 501.0,328.2 501.7,328.2 502.5,328.5 503.2,328.4 504.0,328.1 504.7,328.4 505.5,327.9 506.2,328.4 507.1,327.6 507.9,327.0 508.8,326.0 509.6,324.7 510.4,323.5 511.2,320.1 512.0,316.5 512.8,312.0 513.6,309.1 514.4,306.5 515.2,304.9 516.0,303.6 516.8,302.8 517.5,302.2 518.3,302.1 519.1,302.7 519.9,302.7 520.7,304.8 521.5,307.2 522.3,309.8 523.1,312.1 523.9,313.8 524.7,315.3 525.6,317.0 526.4,318.4 527.3,320.2 528.0,320.2 528.8,320.1 529.5,319.5 530.3,319.4 531.0,319.4 531.8,319.0 532.5,318.6 533.3,319.1 534.1,319.6 534.9,319.4 535.7,319.7 536.5,320.2 537.2,320.8 538.0,321.2 538.8,321.0 539.6,321.3 540.4,321.5 541.2,321.7 542.0,321.9 542.8,320.8 543.6,319.9 544.3,318.7 545.1,318.0 545.9,316.6 546.7,315.0 547.5,314.6 548.3,313.2 549.1,313.3 549.9,314.0 550.6,314.4 551.4,315.3 552.2,316.2 553.0,317.4 553.8,319.1 554.6,320.2 555.4,321.8 556.2,323.3 557.0,324.3 557.7,325.6 558.5,326.0 559.3,325.6 560.1,324.7 560.9,323.6 561.6,321.6 562.4,319.1 563.1,316.9 563.9,314.2 564.6,312.0 565.4,309.9 566.1,307.7 566.9,307.2 567.7,307.4 568.5,307.7 569.3,308.6 570.1,310.1 570.8,311.6 571.6,313.0 572.4,314.5 573.1,316.2 573.9,317.7 574.6,319.3 575.4,320.7 576.2,322.1 576.9,323.6 577.7,324.3 578.5,324.9 579.3,324.9 580.1,324.0 580.9,322.6 581.6,320.2 582.4,317.7 583.1,315.0 583.9,312.3 584.6,309.4 585.4,307.1 586.1,305.3 586.9,304.5 587.7,305.3 588.5,306.4 589.3,307.7 590.1,309.0 590.8,310.8 591.6,311.8 592.4,313.9 593.2,315.4 594.0,317.6 594.8,319.5 595.6,320.9 596.4,322.2 597.1,323.9 597.9,325.1 598.7,326.2 599.5,325.3 600.3,324.2 601.1,322.7 601.9,320.7 602.7,318.7 603.5,317.3 604.2,315.1 605.0,314.2 605.8,313.6 606.6,314.0 607.4,314.0 608.2,315.5 609.0,316.2 609.8,317.5 610.5,319.2 611.3,320.9 612.1,322.3 612.9,324.1 613.7,325.5 614.5,326.8 615.3,327.0 616.1,326.8 616.9,326.3 617.6,325.8 618.4,324.6 619.2,322.7 619.9,320.7 620.7,319.3 621.5,317.2 622.2,315.3 623.0,313.7 623.8,312.8 624.7,312.2 625.6,312.0 626.5,312.2 627.4,313.1 628.1,314.1 628.9,316.1 629.7,317.4 630.4,319.4 631.2,321.3 632.0,323.1 632.8,324.4 633.5,325.6 634.3,326.7 635.1,325.9 635.8,325.6 636.6,324.2 637.4,323.3 638.2,321.7 639.0,320.4 639.7,319.1 640.5,318.0 641.3,316.8 642.1,315.8 642.9,316.3 643.6,316.4 644.4,317.1 645.2,318.1 646.1,319.5 646.9,320.9 647.7,322.7 648.6,324.3 649.4,325.5 650.3,327.0 651.1,327.6 651.9,326.0 652.7,325.2 653.4,323.7 654.2,321.9 655.0,319.7 655.8,318.4 656.6,316.5 657.3,314.4 658.1,312.9 658.9,312.3 659.7,311.3 660.5,310.7 661.2,310.9 662.0,311.7 662.8,313.1 663.6,315.0 664.4,316.4 665.2,318.1 666.0,320.5 666.8,322.3 667.6,323.7 668.4,325.8 669.2,327.2 670.0,328.6 670.9,328.9 671.8,328.8 672.7,328.0 673.6,326.9 674.4,324.0 675.3,321.5 676.1,318.3 677.0,315.5 677.8,313.0 678.6,312.6 679.4,312.1 680.2,312.1 681.0,312.8 681.7,313.8 682.5,315.2 683.3,316.3 684.1,318.0 684.9,319.3 685.7,321.1 686.5,322.6 687.3,324.0 688.0,325.5 688.8,326.0 689.6,327.4 690.4,327.7 691.2,326.3 692.0,324.4 692.9,322.1 693.7,319.2 694.5,316.5 695.3,314.2 696.1,311.0 697.0,309.1 697.8,307.2 698.6,306.0 699.5,306.2 700.3,306.4 701.1,307.1 702.0,307.6 702.7,309.2 703.5,310.0 704.2,311.3 705.0,313.1 705.7,314.0 706.5,316.0 707.2,317.5 708.0,318.8 708.7,320.7 709.5,321.7 710.2,323.1 711.0,324.3 711.7,325.5 712.5,325.8 713.3,325.3 714.1,324.3 714.9,323.0 715.7,321.7 716.5,319.7 717.3,318.4 718.1,316.4 718.9,314.9 719.7,313.4 720.5,312.4 721.3,312.1 722.2,312.1 723.0,313.2 723.8,314.0 724.5,315.2 725.3,316.5 726.1,318.1 726.8,319.6 727.6,321.2 728.3,322.1 729.1,324.0 729.9,325.4 730.6,326.3 731.4,327.0 732.2,327.6 733.0,327.3 733.8,326.7 734.6,325.9 735.4,323.3 736.2,320.6 737.0,317.6 737.8,314.5 738.6,311.3 739.4,308.6 740.2,306.4 741.0,306.0 741.7,306.1 742.5,306.7 743.3,307.4 744.0,308.9 744.8,310.0 745.6,311.7 746.4,312.8 747.2,314.6 748.0,316.2 748.7,318.5 749.5,320.4 750.3,321.8 751.1,323.2 751.9,324.9 752.7,326.0 753.5,326.7 754.3,325.6 755.1,324.3 755.9,322.7 756.7,320.8 757.6,318.9 758.4,317.0 759.2,315.3 760.0,313.0 760.8,312.0 761.6,310.9 762.4,310.8 763.2,311.7 764.0,312.7 764.8,314.2 765.5,315.3 766.3,316.6 767.1,318.6 767.9,320.5 768.6,322.6 769.4,324.5 770.2,326.0 771.0,327.7 771.7,329.1 772.5,331.0 773.3,332.1 774.1,333.2 775.0,332.5 775.9,330.7 776.8,329.0 777.6,326.4 778.5,325.1 779.3,322.5 780.1,321.0 781.0,318.5 781.8,316.9" fill="none" stroke="#ff4545" stroke-width="1.0" stroke-linejoin="round"/>
<rect x="465.3" y="300.3" width="316.5" height="53.7" fill="none" stroke="#565656" stroke-width="0.9"/>
<path d="M465.3 354.0v-3.2M465.3 300.3v3.2M544.4 354.0v-3.2M544.4 300.3v3.2M623.5 354.0v-3.2M623.5 300.3v3.2M702.7 354.0v-3.2M702.7 300.3v3.2M781.8 354.0v-3.2M781.8 300.3v3.2M465.3 300.3h3.2M781.8 300.3h-3.2M465.3 327.1h3.2M781.8 327.1h-3.2M465.3 354.0h3.2M781.8 354.0h-3.2" stroke="#3c3c3c" stroke-width="0.7" fill="none"/>
<text class="tick" text-anchor="middle" x="465.3" y="369.9">0</text>
<text class="tick" text-anchor="middle" x="544.4" y="369.9">0.5</text>
<text class="tick" text-anchor="middle" x="623.5" y="369.9">1</text>
<text class="tick" text-anchor="middle" x="702.7" y="369.9">1.5</text>
<text class="tick" text-anchor="middle" x="781.8" y="369.9">2</text>
<text class="tick" text-anchor="end" x="460.3" y="305.5">200</text>
<text class="tick" text-anchor="end" x="460.3" y="332.1">0</text>
<text class="tick" text-anchor="end" x="460.3" y="358.3">-200</text>
<text class="ttl" text-anchor="middle" x="621.8" y="294.3">Electrode No.8</text>
<g transform="translate(429.1 350.0) rotate(-90)"><text class="yl" x="-1">EEG(</text><text class="yl" x="27.9" style="font-size:9.6px;font-style:italic">μ</text><text class="yl" transform="translate(36.9 0) scale(0.86 1)">V)</text></g>
<clipPath id="c4"><rect x="465.3" y="394.2" width="316.5" height="52.5"/></clipPath>
<polyline clip-path="url(#c4)" points="465.3,420.7 466.1,419.7 466.9,420.4 467.7,419.2 468.5,418.8 469.4,419.9 470.2,419.5 471.0,419.6 471.8,419.2 472.6,417.9 473.4,418.8 474.1,418.9 474.9,418.5 475.7,419.3 476.4,418.1 477.2,419.3 478.0,418.9 478.7,417.6 479.5,417.7 480.3,418.9 481.0,419.2 481.8,418.0 482.5,418.6 483.3,419.6 484.1,418.8 484.8,420.3 485.6,419.8 486.4,419.3 487.1,420.0 487.9,420.6 488.7,420.5 489.4,421.1 490.2,420.1 491.0,421.2 491.7,420.3 492.5,420.7 493.2,420.5 494.0,420.0 494.8,419.8 495.5,420.4 496.3,420.6 497.1,420.2 497.8,419.8 498.6,419.6 499.4,419.5 500.2,421.5 501.0,421.3 501.8,422.0 502.6,421.5 503.4,422.3 504.1,423.3 504.9,423.1 505.7,422.8 506.5,422.3 507.3,422.6 508.1,423.5 508.9,422.7 509.7,423.4 510.4,423.4 511.3,425.0 512.1,426.0 513.0,426.3 513.8,427.1 514.6,428.7 515.5,429.9 516.3,431.1 517.1,432.4 517.9,433.4 518.7,432.5 519.5,434.4 520.4,433.1 521.3,431.4 522.2,429.0 523.1,427.1 523.8,428.1 524.6,428.3 525.4,428.3 526.2,429.1 527.0,428.4 527.8,428.3 528.6,429.5 529.4,430.1 530.2,428.9 531.0,429.6 531.9,429.6 532.7,428.0 533.6,428.3 534.3,428.1 535.1,427.4 535.8,426.6 536.6,426.3 537.3,426.9 538.1,426.7 538.8,425.9 539.6,425.4 540.3,426.9 541.1,427.2 541.8,426.5 542.6,427.5 543.3,428.4 544.1,428.8 544.9,428.6 545.8,429.0 546.6,429.8 547.4,429.7 548.3,430.2 549.1,430.7 550.0,432.0 550.8,431.6 551.6,431.5 552.5,430.5 553.3,429.9 554.2,428.3 555.0,427.3 555.8,428.2 556.7,426.4 557.5,425.6 558.4,426.2 559.2,426.4 560.1,425.2 560.9,426.2 561.7,426.2 562.4,427.0 563.2,426.8 563.9,427.5 564.7,429.9 565.5,430.4 566.2,430.4 567.0,431.1 567.8,431.1 568.5,432.5 569.3,432.2 570.1,432.6 570.9,431.5 571.8,430.8 572.6,430.1 573.4,427.8 574.2,426.4 575.0,425.8 575.8,425.0 576.7,424.2 577.5,424.2 578.3,425.5 579.2,426.5 580.0,426.4 580.9,427.8 581.6,428.3 582.4,427.4 583.1,429.1 583.9,429.4 584.6,429.5 585.4,431.6 586.1,430.8 587.0,431.5 587.8,431.7 588.6,432.2 589.5,431.5 590.3,430.6 591.1,430.1 591.9,428.8 592.7,429.3 593.5,428.5 594.3,426.2 595.0,425.0 595.8,424.7 596.6,424.2 597.4,425.2 598.1,425.3 598.9,425.4 599.6,424.2 600.4,425.8 601.1,426.0 601.9,426.3 602.6,427.4 603.4,426.4 604.1,427.3 604.9,429.1 605.6,430.1 606.4,430.2 607.1,429.8 607.9,430.0 608.7,429.9 609.4,428.2 610.2,428.0 611.0,427.3 611.7,426.4 612.5,426.5 613.2,425.3 614.0,424.9 614.8,424.2 615.5,424.8 616.4,423.8 617.2,425.4 618.1,425.0 618.9,425.2 619.7,427.4 620.6,426.8 621.4,428.8 622.3,429.5 623.1,430.3 623.9,429.5 625.3,430.7 626.0,429.7 626.8,430.8 627.5,430.2 628.3,429.3 629.0,428.5 629.8,427.8 630.5,428.1 631.3,426.9 632.0,426.7 632.8,425.3 633.5,425.0 634.3,424.3 635.0,425.2 635.8,424.6 636.5,424.3 637.3,426.4 638.0,426.2 638.8,427.4 639.5,427.9 640.3,428.9 641.0,430.4 641.8,429.3 642.5,428.7 643.3,428.9 644.0,428.2 644.8,428.8 645.5,426.9 646.3,428.0 647.0,425.8 647.8,426.9 648.5,426.0 649.3,424.8 650.0,424.9 650.8,424.3 651.5,424.1 652.3,424.3 653.1,425.1 653.8,426.8 654.6,427.5 655.4,428.0 656.1,427.2 656.9,428.3 657.6,430.0 658.4,429.1 659.2,430.8 659.9,430.5 660.7,431.6 661.4,429.7 662.2,430.9 662.9,429.8 663.7,429.1 664.4,428.6 665.2,429.7 665.9,428.9 666.7,427.9 667.4,428.1 668.2,428.7 668.9,427.2 669.7,427.7 670.4,426.8 671.2,427.2 672.0,428.8 672.8,429.2 673.6,428.9 674.4,429.3 675.2,430.0 676.0,431.6 676.8,432.0 677.5,432.2 678.3,432.6 679.1,433.7 679.9,434.1 680.7,434.0 681.4,433.3 682.2,432.2 683.0,431.4 683.8,432.1 684.5,430.9 685.3,430.9 686.1,429.1 686.8,429.9 687.6,428.4 688.4,428.8 689.2,428.3 689.9,427.2 690.7,426.0 691.5,427.4 692.3,427.0 693.1,428.3 693.9,427.9 694.7,428.6 695.6,430.6 696.4,430.6 697.2,431.1 698.0,432.1 698.8,433.1 699.6,432.0 700.4,432.9 701.2,432.6 702.0,432.5 702.8,431.6 703.6,432.3 704.3,432.2 705.1,431.9 705.9,430.1 706.7,429.8 707.6,428.2 708.4,427.8 709.2,425.6 710.0,426.2 710.8,425.8 711.6,425.1 712.3,425.5 713.1,425.9 713.8,426.3 714.6,425.9 715.3,428.1 716.1,427.3 716.8,427.7 717.6,428.0 718.3,428.6 719.1,429.9 719.8,428.7 720.6,428.6 721.4,429.3 722.2,427.9 722.9,427.2 723.7,427.7 724.5,427.1 725.2,426.4 726.0,426.2 726.8,424.6 727.5,425.4 728.3,424.6 729.1,423.0 729.9,422.7 730.6,423.1 731.4,422.8 732.2,422.8 733.0,422.9 733.8,424.0 734.6,424.1 735.3,425.6 736.1,426.7 736.9,426.1 737.7,427.6 738.5,428.6 739.3,428.2 740.1,429.9 740.9,430.6 741.6,429.8 742.4,429.9 743.1,430.7 743.9,430.1 744.6,429.8 745.4,430.6 746.1,430.1 747.0,428.7 747.8,427.7 748.6,427.1 749.5,426.4 750.3,426.6 751.2,425.5 752.0,425.1 752.8,424.5 753.6,424.8 754.4,423.8 755.2,425.1 756.0,426.5 756.8,427.1 757.6,426.5 758.4,427.5 759.2,428.4 760.0,428.5 760.8,429.2 761.6,428.5 762.3,429.2 763.1,429.3 763.8,428.4 764.6,428.5 765.3,429.8 766.1,429.2 766.9,429.0 767.7,427.9 768.5,427.6 769.4,427.1 770.2,426.4 771.0,424.2 771.8,424.7 772.6,423.5 773.4,423.8 774.3,422.9 775.1,423.4 776.0,424.1 776.8,423.8 777.6,423.4 778.5,424.8 779.3,425.8 780.1,427.9 781.0,427.8 781.8,428.8" fill="none" stroke="#ff4545" stroke-width="1.0" stroke-linejoin="round"/>
<rect x="465.3" y="394.2" width="316.5" height="52.5" fill="none" stroke="#565656" stroke-width="0.9"/>
<path d="M465.3 446.7v-3.2M465.3 394.2v3.2M544.4 446.7v-3.2M544.4 394.2v3.2M623.5 446.7v-3.2M623.5 394.2v3.2M702.7 446.7v-3.2M702.7 394.2v3.2M781.8 446.7v-3.2M781.8 394.2v3.2M465.3 394.2h3.2M781.8 394.2h-3.2M465.3 420.4h3.2M781.8 420.4h-3.2M465.3 446.7h3.2M781.8 446.7h-3.2" stroke="#3c3c3c" stroke-width="0.7" fill="none"/>
<text class="tick" text-anchor="middle" x="465.3" y="462.6">0</text>
<text class="tick" text-anchor="middle" x="544.4" y="462.6">0.5</text>
<text class="tick" text-anchor="middle" x="623.5" y="462.6">1</text>
<text class="tick" text-anchor="middle" x="702.7" y="462.6">1.5</text>
<text class="tick" text-anchor="middle" x="781.8" y="462.6">2</text>
<text class="tick" text-anchor="end" x="460.3" y="399.4">200</text>
<text class="tick" text-anchor="end" x="460.3" y="425.4">0</text>
<text class="tick" text-anchor="end" x="460.3" y="451.0">-200</text>
<text class="ttl" text-anchor="middle" x="621.8" y="388.2">Electrode No.126</text>
<g transform="translate(429.1 443.3) rotate(-90)"><text class="yl" x="-1">EEG(</text><text class="yl" x="27.9" style="font-size:9.6px;font-style:italic">μ</text><text class="yl" transform="translate(36.9 0) scale(0.86 1)">V)</text></g>
<clipPath id="c5"><rect x="465.3" y="485.9" width="316.5" height="52.7"/></clipPath>
<polyline clip-path="url(#c5)" points="465.3,512.2 466.1,511.7 466.9,512.0 467.7,512.1 468.5,511.6 469.4,511.3 470.2,511.3 471.0,511.3 471.8,510.9 472.6,510.8 473.4,510.8 474.2,510.9 475.1,511.0 475.9,510.9 476.7,510.9 477.5,510.8 478.3,511.2 479.2,511.4 480.0,511.3 480.7,511.5 481.5,511.9 482.2,511.9 483.0,512.5 483.7,512.7 484.5,513.0 485.2,513.2 486.0,513.1 486.8,513.0 487.6,512.9 488.4,512.8 489.2,512.9 490.0,512.7 490.7,512.8 491.5,512.4 492.4,512.9 493.2,513.5 494.1,513.4 494.9,514.0 495.7,514.2 496.5,514.1 497.2,514.7 498.0,514.3 498.7,514.7 499.5,514.3 500.2,514.4 501.0,515.0 501.7,514.8 502.5,514.5 503.2,514.8 504.0,514.9 504.7,515.1 505.5,514.6 506.2,514.6 507.1,514.5 507.9,513.6 508.8,512.2 509.6,511.3 510.4,509.9 511.2,506.7 512.0,502.7 512.8,498.9 513.6,495.1 514.6,488.8 515.7,483.5 516.5,481.3 517.2,479.4 518.0,478.0 518.9,479.4 519.7,481.2 520.5,483.6 521.4,486.7 522.2,491.2 523.1,494.5 523.9,497.3 524.7,499.5 525.6,501.7 526.4,504.1 527.3,505.4 528.0,505.4 528.8,505.4 529.5,505.1 530.3,504.5 531.0,503.9 531.8,503.5 532.5,503.2 533.3,503.5 534.0,503.3 534.8,503.5 535.5,503.8 536.3,503.8 537.0,504.0 537.8,504.5 538.6,505.1 539.5,505.6 540.3,506.3 541.1,506.5 542.0,506.7 542.7,505.5 543.5,504.4 544.2,502.9 545.0,500.9 545.7,499.9 546.5,498.1 547.2,497.2 548.0,496.4 548.8,496.0 549.6,495.3 550.4,495.9 551.2,497.2 552.0,497.8 552.8,499.1 553.6,500.9 554.4,502.3 555.2,504.0 556.0,505.3 556.8,506.5 557.6,507.9 558.4,508.5 559.2,508.4 560.1,507.4 560.9,505.3 561.7,502.5 562.6,499.4 563.4,495.8 564.3,493.0 565.1,490.2 565.9,489.3 566.8,488.5 567.6,488.5 568.5,488.8 569.3,489.7 570.1,491.0 570.8,492.9 571.6,494.8 572.4,496.5 573.1,498.5 573.9,500.7 574.6,502.9 575.4,504.2 576.2,505.9 576.9,507.4 577.7,507.9 578.5,506.4 579.3,504.6 580.1,501.7 580.9,498.5 581.6,495.1 582.4,492.7 583.2,489.8 584.0,487.7 584.8,486.9 585.5,486.5 586.3,486.1 587.0,486.1 587.8,486.3 588.7,486.9 589.6,487.4 590.5,488.0 591.4,489.4 592.2,491.6 592.9,493.8 593.7,496.1 594.5,499.1 595.3,501.3 596.1,503.2 596.9,505.3 597.7,507.0 598.5,506.0 599.3,505.3 600.1,503.4 600.9,502.1 601.8,500.8 602.6,499.0 603.4,497.5 604.2,495.8 605.0,494.9 605.8,494.4 606.6,494.2 607.4,494.8 608.2,495.5 608.9,496.8 609.7,497.6 610.5,498.8 611.2,500.0 612.0,501.4 612.8,503.2 613.5,504.0 614.3,505.2 615.1,506.3 615.8,507.4 616.6,508.1 617.4,506.7 618.2,505.2 619.0,502.7 619.8,500.5 620.6,498.7 621.4,496.1 622.2,494.3 623.0,492.1 623.8,490.4 624.6,489.8 625.5,490.1 626.3,492.0 627.1,493.1 627.9,494.5 628.7,496.4 629.5,498.2 630.3,499.9 631.1,502.3 631.9,503.9 632.7,505.8 633.5,506.8 634.3,508.0 635.1,507.1 636.0,506.0 636.8,505.3 637.7,503.7 638.5,501.8 639.3,500.7 640.2,499.3 641.0,497.9 641.8,497.7 642.6,497.9 643.4,497.8 644.2,498.8 645.0,499.2 645.8,500.6 646.6,502.2 647.4,503.2 648.3,504.7 649.1,506.4 649.9,507.2 650.7,508.3 651.5,508.3 652.3,506.8 653.2,505.1 654.0,502.8 654.8,501.0 655.6,498.1 656.4,495.8 657.3,493.2 658.1,491.4 658.9,489.5 659.7,488.5 660.5,487.8 661.2,488.0 662.0,489.4 662.8,490.4 663.6,491.8 664.4,493.4 665.2,495.3 666.0,497.1 666.8,498.9 667.6,501.2 668.3,502.7 669.1,504.2 669.9,506.1 670.7,506.9 671.5,507.9 672.3,507.4 673.0,505.4 673.8,503.8 674.6,502.1 675.4,499.9 676.1,497.3 676.9,495.4 677.7,493.8 678.4,492.0 679.3,491.7 680.2,490.9 681.1,491.7 682.0,492.1 682.8,493.0 683.5,494.4 684.3,495.6 685.1,497.4 685.8,498.7 686.6,500.7 687.4,501.9 688.1,503.2 688.9,504.3 689.6,505.7 690.4,506.2 691.3,505.6 692.1,503.4 692.9,501.5 693.8,499.2 694.6,496.8 695.5,493.4 696.4,489.2 697.4,485.9 698.2,483.9 699.0,482.1 699.9,481.1 700.7,481.8 701.6,483.3 702.4,486.1 703.2,486.9 703.9,488.5 704.7,489.7 705.5,491.6 706.3,493.1 707.1,494.9 707.8,496.4 708.6,497.8 709.4,499.6 710.2,500.9 710.9,502.1 711.7,503.6 712.5,504.2 713.3,503.5 714.1,502.6 714.9,501.0 715.8,499.3 716.6,497.5 717.4,495.1 718.2,493.4 719.0,491.6 719.8,490.8 720.6,489.9 721.4,489.2 722.2,489.3 723.0,490.1 723.8,491.4 724.5,492.4 725.3,494.4 726.1,495.7 726.8,497.5 727.6,499.0 728.3,500.6 729.1,502.8 729.9,504.1 730.6,505.5 731.4,506.1 732.2,506.3 733.0,505.8 733.8,504.7 734.6,503.1 735.4,500.7 736.2,497.4 737.0,494.5 737.8,491.5 738.6,488.2 739.4,486.1 740.4,483.8 741.4,482.6 742.3,481.5 743.2,482.4 744.2,483.8 745.1,485.7 745.9,486.7 746.6,488.8 747.4,490.3 748.2,491.6 749.0,493.2 749.8,495.5 750.6,497.0 751.4,498.2 752.2,499.8 752.9,501.1 753.7,502.6 754.5,503.1 755.3,502.4 756.1,500.6 756.9,498.0 757.7,496.1 758.5,493.5 759.3,491.4 760.0,489.4 760.8,487.4 761.7,486.6 762.5,486.8 763.4,486.4 764.2,487.3 765.0,488.1 765.8,489.5 766.5,491.3 767.3,493.0 768.0,494.8 768.8,496.6 769.6,499.1 770.3,501.0 771.1,503.0 771.8,505.2 772.6,506.4 773.3,508.4 774.1,509.3 775.0,509.5 775.9,508.3 776.8,506.1 777.6,504.4 778.5,502.3 779.3,499.3 780.1,496.5 781.0,493.7 781.8,491.4" fill="none" stroke="#ff4545" stroke-width="1.0" stroke-linejoin="round"/>
<rect x="465.3" y="485.9" width="316.5" height="52.7" fill="none" stroke="#565656" stroke-width="0.9"/>
<path d="M465.3 538.6v-3.2M465.3 485.9v3.2M544.4 538.6v-3.2M544.4 485.9v3.2M623.5 538.6v-3.2M623.5 485.9v3.2M702.7 538.6v-3.2M702.7 485.9v3.2M781.8 538.6v-3.2M781.8 485.9v3.2M465.3 485.9h3.2M781.8 485.9h-3.2M465.3 512.2h3.2M781.8 512.2h-3.2M465.3 538.6h3.2M781.8 538.6h-3.2" stroke="#3c3c3c" stroke-width="0.7" fill="none"/>
<text class="tick" text-anchor="middle" x="465.3" y="554.5">0</text>
<text class="tick" text-anchor="middle" x="544.4" y="554.5">0.5</text>
<text class="tick" text-anchor="middle" x="623.5" y="554.5">1</text>
<text class="tick" text-anchor="middle" x="702.7" y="554.5">1.5</text>
<text class="tick" text-anchor="middle" x="781.8" y="554.5">2</text>
<text class="tick" text-anchor="end" x="460.3" y="491.1">200</text>
<text class="tick" text-anchor="end" x="460.3" y="517.2">0</text>
<text class="tick" text-anchor="end" x="460.3" y="542.9">-200</text>
<text class="ttl" text-anchor="middle" x="621.8" y="479.9">Electrode No.25</text>
<g transform="translate(429.1 535.1) rotate(-90)"><text class="yl" x="-1">EEG(</text><text class="yl" x="27.9" style="font-size:9.6px;font-style:italic">μ</text><text class="yl" transform="translate(36.9 0) scale(0.86 1)">V)</text></g>
<clipPath id="c6"><rect x="465.3" y="578.7" width="316.5" height="52.4"/></clipPath>
<polyline clip-path="url(#c6)" points="465.3,603.3 466.1,603.7 467.0,603.6 467.8,604.2 468.6,604.2 469.5,605.7 470.3,606.0 471.1,605.5 472.0,605.9 472.8,606.7 473.7,606.7 474.5,607.1 475.3,605.3 476.2,604.4 477.0,604.9 477.9,602.9 478.7,603.8 479.4,603.4 480.2,604.5 481.0,604.2 481.8,604.8 482.6,603.8 483.4,605.0 484.2,605.0 485.0,604.9 485.7,605.7 486.5,605.9 487.3,604.5 488.1,604.8 488.8,604.8 489.6,604.4 490.3,604.0 491.1,604.2 491.8,603.9 492.6,604.7 493.3,604.0 494.1,603.2 494.8,603.4 495.6,603.6 496.3,603.2 497.1,602.7 497.8,602.4 498.6,602.2 499.4,604.1 500.2,603.6 501.0,602.3 501.8,603.5 502.6,604.1 503.4,603.3 504.1,602.4 504.9,603.3 505.6,603.4 506.4,603.1 507.1,603.9 507.9,603.1 508.6,605.2 509.4,605.0 510.1,605.6 510.9,606.9 511.6,607.1 512.4,607.1 513.1,607.9 513.9,608.5 514.6,609.0 515.5,611.5 516.3,612.7 517.2,612.7 518.0,613.4 518.9,614.8 519.6,614.8 520.4,614.3 521.1,612.0 521.9,612.4 522.6,611.6 523.4,610.6 524.1,609.2 524.9,608.7 525.7,609.9 526.6,608.8 527.4,608.9 528.2,609.2 529.0,608.8 529.8,609.7 530.6,608.5 531.5,608.0 532.2,608.8 533.0,608.8 533.8,608.9 534.5,608.5 535.3,608.7 536.1,608.5 536.8,607.4 537.6,607.2 538.3,606.4 539.1,606.5 539.9,606.9 540.7,606.1 541.4,607.5 542.2,606.7 543.0,607.5 543.8,608.9 544.6,607.4 545.4,607.7 546.2,608.8 547.0,608.7 547.8,610.3 548.6,609.5 549.4,611.7 550.2,612.2 551.0,612.4 551.9,611.9 552.7,610.9 553.5,610.7 554.4,609.3 555.2,608.0 556.1,606.7 556.9,605.9 557.7,605.6 558.6,606.0 559.4,606.5 560.3,605.5 561.1,606.4 561.9,607.3 562.7,608.2 563.5,608.4 564.3,608.9 565.1,609.5 565.9,610.7 566.7,611.6 567.5,613.2 568.2,613.5 569.0,613.0 569.8,612.6 570.6,611.9 571.4,610.5 572.2,610.0 573.0,607.8 573.8,608.3 574.6,607.6 575.3,606.8 576.1,607.2 576.8,607.9 577.6,607.0 578.3,607.4 579.1,606.8 579.8,607.1 580.6,608.9 581.4,608.0 582.2,609.3 583.0,611.2 583.8,611.7 584.5,611.9 585.3,613.8 586.1,613.9 586.9,614.3 587.6,613.8 588.4,613.7 589.1,613.4 589.9,612.7 590.6,611.7 591.4,611.4 592.1,612.2 592.9,610.9 593.6,609.3 594.4,610.0 595.1,608.1 595.9,607.2 596.6,607.5 597.5,606.6 598.3,606.9 599.1,606.8 600.0,606.2 600.8,606.9 601.6,606.4 602.4,607.8 603.2,608.6 604.0,608.2 604.8,609.5 605.6,609.4 606.3,610.6 607.1,611.7 607.9,610.8 608.7,610.8 609.4,610.4 610.2,608.7 611.0,609.9 611.7,608.8 612.5,607.1 613.2,608.0 614.0,606.7 614.8,605.8 615.5,607.1 616.4,606.4 617.2,607.1 618.1,606.2 618.9,607.9 619.7,606.9 620.6,607.9 621.4,608.8 622.3,608.8 623.1,610.6 623.9,610.4 625.3,611.6 626.0,612.1 626.8,611.2 627.6,611.6 628.4,610.6 629.2,610.6 630.0,609.4 630.8,609.6 631.6,609.0 632.3,607.1 633.1,607.9 633.9,606.7 634.7,607.3 635.5,607.4 636.3,608.1 637.2,607.2 638.0,608.3 638.8,609.7 639.6,610.7 640.4,610.7 641.3,609.8 642.1,611.2 642.9,609.9 643.6,610.4 644.4,610.5 645.2,608.6 646.0,609.7 646.8,608.7 647.6,607.3 648.4,606.6 649.2,606.6 650.0,607.0 650.7,606.1 651.5,605.0 652.3,605.1 653.1,605.6 653.9,607.5 654.7,606.8 655.5,608.2 656.3,608.2 657.0,609.6 657.8,609.6 658.6,609.7 659.4,611.7 660.2,611.4 661.0,612.0 661.8,612.0 662.5,611.9 663.3,609.6 664.0,609.7 664.8,608.7 665.6,608.9 666.3,609.0 667.1,608.4 667.9,606.4 668.6,606.4 669.4,607.4 670.2,607.5 670.9,607.3 671.7,607.9 672.5,607.8 673.2,609.7 674.0,609.4 674.8,611.0 675.6,611.0 676.3,610.6 677.1,611.7 677.9,612.0 678.6,613.8 679.4,613.7 680.2,612.9 681.0,613.5 681.7,613.6 682.5,613.3 683.2,613.0 684.0,612.0 684.8,611.3 685.5,609.9 686.3,610.3 687.1,609.2 687.8,607.9 688.6,608.2 689.4,608.8 690.2,606.6 690.9,606.7 691.7,607.8 692.5,607.4 693.3,607.9 694.0,609.0 694.8,609.3 695.6,610.7 696.3,611.5 697.1,613.1 697.9,614.0 698.6,612.8 699.4,614.5 700.2,615.4 700.9,615.9 701.7,615.4 702.4,614.6 703.2,614.0 703.9,612.8 704.7,611.9 705.4,612.1 706.2,611.5 706.9,610.8 707.7,609.5 708.4,608.0 709.2,608.3 709.9,607.6 710.7,606.6 711.4,606.4 712.2,606.1 713.0,606.9 713.7,607.1 714.5,607.0 715.3,608.2 716.0,608.8 716.8,610.8 717.5,610.4 718.3,610.7 719.1,610.8 719.8,611.1 720.6,611.0 721.4,610.2 722.2,609.4 722.9,610.6 723.7,609.2 724.5,608.6 725.2,608.2 726.0,607.1 726.8,606.2 727.5,605.4 728.3,605.3 729.1,604.8 729.9,605.2 730.6,604.4 731.4,604.9 732.2,604.1 732.9,605.8 733.7,605.8 734.5,605.5 735.2,606.5 736.0,608.2 736.8,609.8 737.5,609.4 738.3,611.0 739.0,610.9 739.8,612.4 740.6,610.9 741.3,611.8 742.1,612.6 742.8,611.3 743.6,611.0 744.3,610.3 745.1,610.3 745.9,609.9 746.7,610.1 747.5,608.3 748.3,607.8 749.2,606.5 750.0,606.5 750.8,606.4 751.6,605.4 752.4,604.1 753.2,605.5 753.9,606.4 754.7,606.2 755.4,605.7 756.2,607.9 756.9,608.7 757.7,608.3 758.4,608.6 759.2,609.4 759.9,610.7 760.7,612.0 761.4,612.0 762.2,613.0 762.9,611.9 763.7,611.8 764.4,612.3 765.2,611.6 765.9,610.5 766.7,610.5 767.4,609.1 768.2,607.9 768.9,608.0 769.7,606.5 770.4,607.1 771.2,605.9 771.9,605.6 772.7,605.3 773.4,604.2 774.3,604.5 775.1,603.6 776.0,605.7 776.8,605.4 777.6,606.7 778.5,606.0 779.3,608.4 780.1,610.1 781.0,610.6 781.8,611.2" fill="none" stroke="#ff4545" stroke-width="1.0" stroke-linejoin="round"/>
<rect x="465.3" y="578.7" width="316.5" height="52.4" fill="none" stroke="#565656" stroke-width="0.9"/>
<path d="M465.3 631.1v-3.2M465.3 578.7v3.2M544.4 631.1v-3.2M544.4 578.7v3.2M623.5 631.1v-3.2M623.5 578.7v3.2M702.7 631.1v-3.2M702.7 578.7v3.2M781.8 631.1v-3.2M781.8 578.7v3.2M465.3 578.7h3.2M781.8 578.7h-3.2M465.3 604.9h3.2M781.8 604.9h-3.2M465.3 631.1h3.2M781.8 631.1h-3.2" stroke="#3c3c3c" stroke-width="0.7" fill="none"/>
<text class="tick" text-anchor="middle" x="465.3" y="647.0">0</text>
<text class="tick" text-anchor="middle" x="544.4" y="647.0">0.5</text>
<text class="tick" text-anchor="middle" x="623.5" y="647.0">1</text>
<text class="tick" text-anchor="middle" x="702.7" y="647.0">1.5</text>
<text class="tick" text-anchor="middle" x="781.8" y="647.0">2</text>
<text class="tick" text-anchor="end" x="460.3" y="583.9">200</text>
<text class="tick" text-anchor="end" x="460.3" y="609.9">0</text>
<text class="tick" text-anchor="end" x="460.3" y="635.4">-200</text>
<text class="ttl" text-anchor="middle" x="621.8" y="572.7">Electrode No.127</text>
<g transform="translate(429.1 627.8) rotate(-90)"><text class="yl" x="-1">EEG(</text><text class="yl" x="27.9" style="font-size:9.6px;font-style:italic">μ</text><text class="yl" transform="translate(36.9 0) scale(0.86 1)">V)</text></g>
<text class="yl" text-anchor="middle" x="623.5" y="665.2">time(s)</text>
</g></svg></body></html>
